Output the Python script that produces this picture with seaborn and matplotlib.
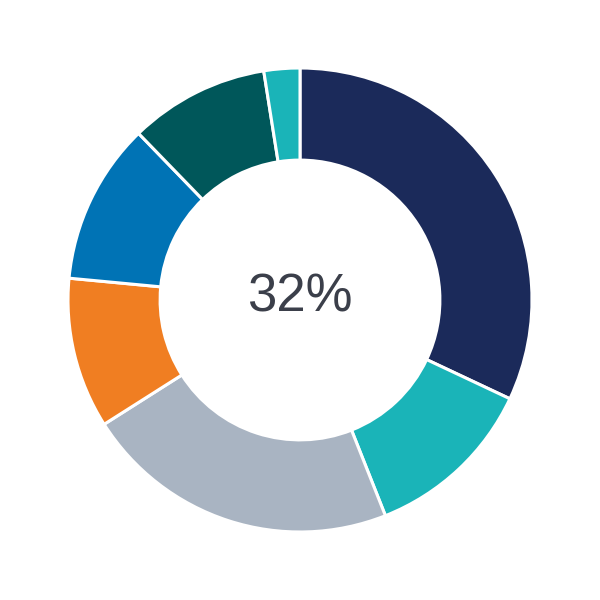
import matplotlib
matplotlib.use("Agg")
import matplotlib.pyplot as plt
import seaborn as sns

# slice shares (percent), clockwise from 12 o'clock
labels = ["A", "B", "C", "D", "E", "F", "G"]
values = [32, 12, 22, 10.5, 11.25, 9.75, 2.5]
colors = ["#1b2a5a", "#1ab4b8", "#a9b4c2", "#f07e22", "#0073b5", "#00575a", "#1ab4b8"]
center_text = "32%"

sns.set_theme(style="white")
plt.rcParams["font.family"] = ["Liberation Sans", "DejaVu Sans"]

fig = plt.figure(figsize=(6, 6), dpi=100)
ax = fig.add_axes([0, 0, 1, 1])

ax.pie(values, colors=colors, startangle=90, counterclock=False,
       radius=1, wedgeprops=dict(width=0.397, edgecolor="white", linewidth=2.2))

ax.text(0, 0.01, center_text, ha="center", va="center", fontsize=38, color="#3b3f4a")

lim = 300 / 232
ax.set_xlim(-lim, lim)
ax.set_ylim(-lim, lim)
ax.set_aspect("equal")
ax.axis("off")

fig.savefig("out.png", dpi=100, facecolor="white")
